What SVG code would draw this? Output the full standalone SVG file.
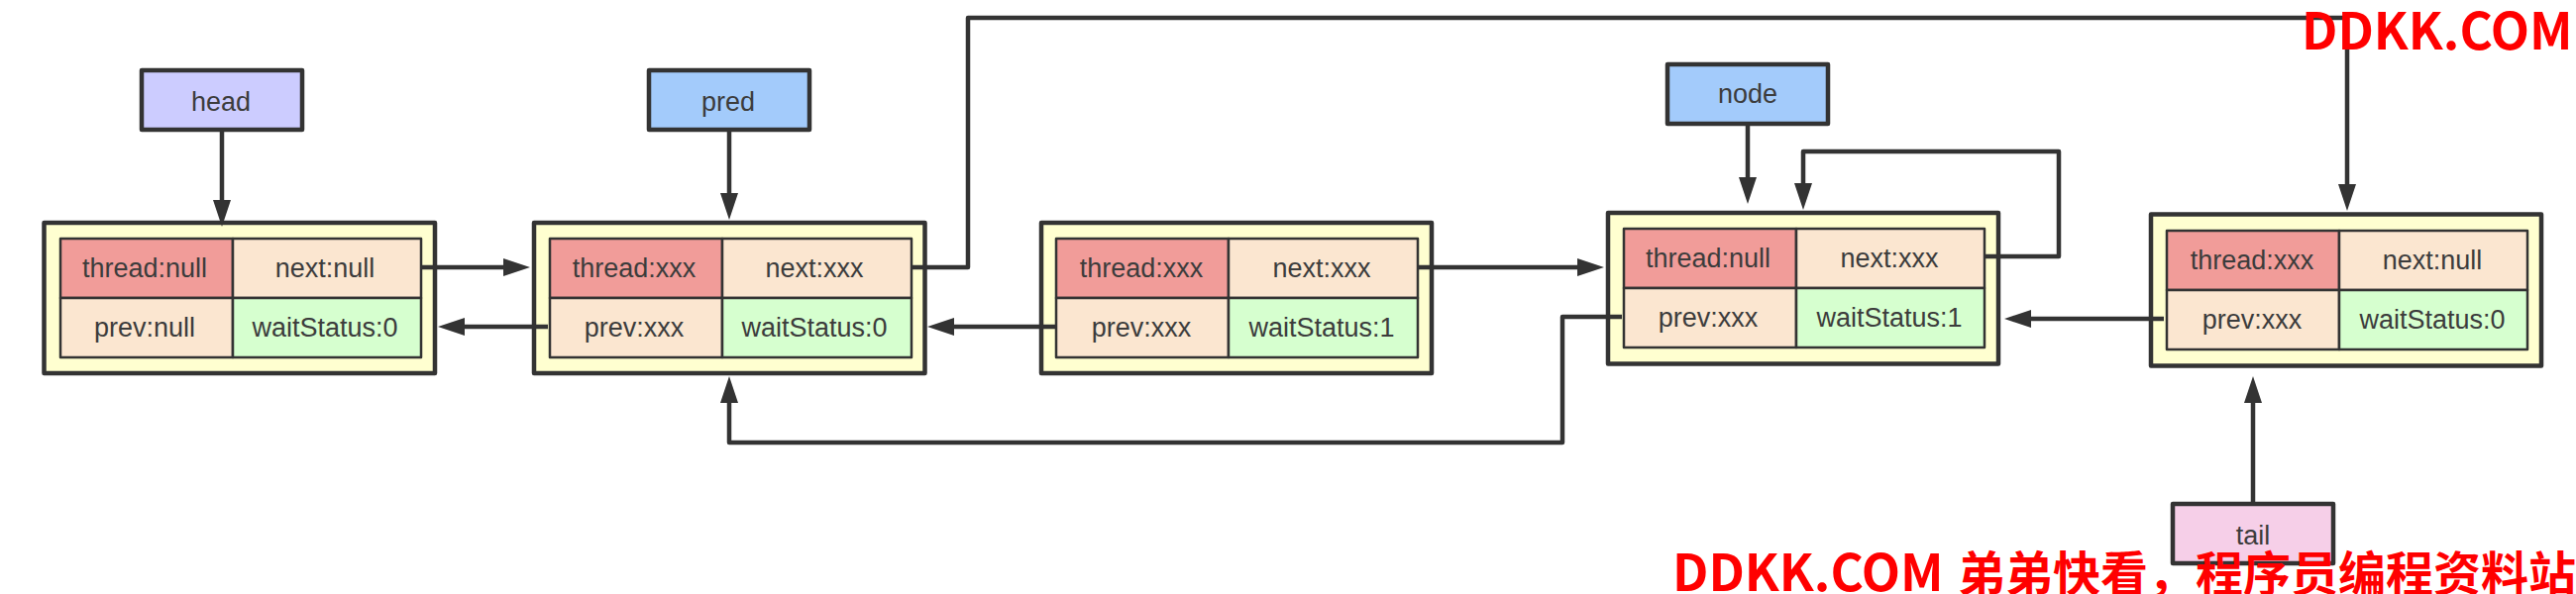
<svg xmlns="http://www.w3.org/2000/svg" width="2600" height="600" viewBox="0 0 2600 600">
<style>
rect{stroke:#333;stroke-linejoin:round}
.o{fill:#ffffd0;stroke-width:4.5}
.l{stroke-width:4.5}
.c{stroke-width:2.5}
.r{fill:#f19c99}.p{fill:#fbe6d0}.g{fill:#d6ffcf}
text{font-family:"Liberation Sans",Arial,sans-serif;font-size:27px;fill:#3c3c3c;text-anchor:middle}
.w{font-family:"Noto Sans CJK SC","Liberation Sans",sans-serif;font-size:51px;font-weight:700;fill:#f00;text-anchor:start}
.z{font-size:48px}
.e{fill:none;stroke:#333;stroke-width:4.5;stroke-linejoin:round;marker-end:url(#a)}
</style>
<defs><marker id="a" markerUnits="userSpaceOnUse" markerWidth="28" markerHeight="20" viewBox="0 0 28 20" refX="17" refY="10" orient="auto"><path d="M0 1L27 10L0 19Z" fill="#333"/></marker></defs>
<rect width="2600" height="600" style="fill:#fff;stroke:none"/>
<g id="head"><rect class="l" x="143" y="71" width="162" height="60" style="fill:#ccf"/><text x="223" y="112">head</text></g>
<g id="pred"><rect class="l" x="655" y="71" width="162" height="60" style="fill:#a3cbfb"/><text x="735" y="112">pred</text></g>
<g id="node"><rect class="l" x="1683" y="65" width="162" height="60" style="fill:#a3cbfb"/><text x="1764" y="104">node</text></g>
<g id="tail"><rect class="l" x="2193" y="509" width="162" height="60" style="fill:#f6cfe8"/><text x="2274" y="550">tail</text></g>
<g id="node1"><rect class="o" x="44.5" y="225" width="394.5" height="152"/>
<rect class="c r" x="61" y="241" width="174" height="60"/><rect class="c p" x="235" y="241" width="190" height="60"/><rect class="c p" x="61" y="301" width="174" height="60"/><rect class="c g" x="235" y="301" width="190" height="60"/>
<text x="146" y="280">thread:null</text><text x="328" y="280">next:null</text><text x="146" y="340">prev:null</text><text x="328" y="340">waitStatus:0</text></g>
<g id="node2"><rect class="o" x="539" y="225" width="394.5" height="152"/>
<rect class="c r" x="555" y="241" width="174" height="60"/><rect class="c p" x="729" y="241" width="191" height="60"/><rect class="c p" x="555" y="301" width="174" height="60"/><rect class="c g" x="729" y="301" width="191" height="60"/>
<text x="640" y="280">thread:xxx</text><text x="822" y="280">next:xxx</text><text x="640" y="340">prev:xxx</text><text x="822" y="340">waitStatus:0</text></g>
<g id="node3"><rect class="o" x="1051" y="225" width="394" height="152"/>
<rect class="c r" x="1066" y="241" width="174" height="60"/><rect class="c p" x="1240" y="241" width="191" height="60"/><rect class="c p" x="1066" y="301" width="174" height="60"/><rect class="c g" x="1240" y="301" width="191" height="60"/>
<text x="1152" y="280">thread:xxx</text><text x="1334" y="280">next:xxx</text><text x="1152" y="340">prev:xxx</text><text x="1334" y="340">waitStatus:1</text></g>
<g id="node4"><rect class="o" x="1623" y="215" width="394" height="152.5"/>
<rect class="c r" x="1639" y="231" width="174" height="60"/><rect class="c p" x="1813" y="231" width="190" height="60"/><rect class="c p" x="1639" y="291" width="174" height="60"/><rect class="c g" x="1813" y="291" width="190" height="60"/>
<text x="1724" y="270">thread:null</text><text x="1907" y="270">next:xxx</text><text x="1724" y="330">prev:xxx</text><text x="1907" y="330">waitStatus:1</text></g>
<g id="node5"><rect class="o" x="2171" y="216.5" width="394" height="153"/>
<rect class="c r" x="2187" y="233" width="174" height="60"/><rect class="c p" x="2361" y="233" width="190" height="60"/><rect class="c p" x="2187" y="293" width="174" height="60"/><rect class="c g" x="2361" y="293" width="190" height="60"/>
<text x="2273" y="272">thread:xxx</text><text x="2455" y="272">next:null</text><text x="2273" y="332">prev:xxx</text><text x="2455" y="332">waitStatus:0</text></g>
<g id="connectors">
<path class="e" d="M224 133V219"/>
<path class="e" d="M425 270H525"/>
<path class="e" d="M553 330H452"/>
<path class="e" d="M736 133V212"/>
<path class="e" d="M920 270H977V18H2369V203"/>
<path class="e" d="M1065 330H946"/>
<path class="e" d="M1431 270H1609"/>
<path class="e" d="M1637 320H1577V447H736V390"/>
<path class="e" d="M1764 127V196"/>
<path class="e" d="M2003 259H2078V153H1820V202"/>
<path class="e" d="M2184 322H2033"/>
<path class="e" d="M2274 507V390"/>
</g>
<text class="w" x="2323" y="50">DDKK.COM</text>
<text class="w" x="1688" y="597">DDKK.COM <tspan class="z" x="1976">弟弟快看，程序员编程资料站</tspan></text>
</svg>
